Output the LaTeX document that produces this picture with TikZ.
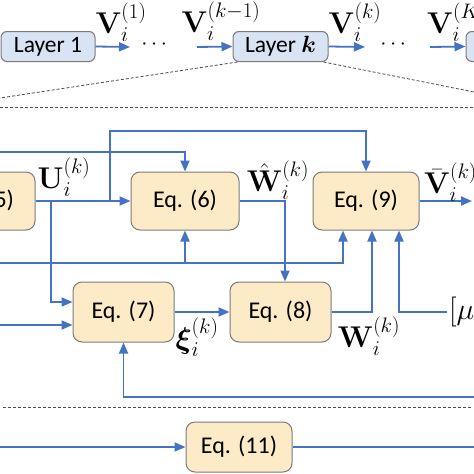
\RequirePackage{fix-cm}
\documentclass[tikz,border=0pt]{standalone}
\usepackage{amsmath}
\usepackage[no-math]{fontspec}
\setmainfont{Carlito}
\usetikzlibrary{arrows.meta}
\definecolor{lblue}{HTML}{4472C4}
\definecolor{layerfill}{HTML}{D8E4F3}
\definecolor{eqfill}{HTML}{FCEBC6}
\definecolor{boxline}{HTML}{7A7A7A}
\begin{document}
\begin{tikzpicture}[x=1pt,y=-1pt,
  layerbox/.style={draw=boxline, fill=layerfill, rounded corners=6pt, line width=1pt, minimum width=95pt, minimum height=30pt, inner sep=0pt, font=\fontsize{23.5}{26}\selectfont},
  eqbox/.style={draw=boxline, fill=eqfill, rounded corners=9pt, line width=1pt, minimum width=106pt, minimum height=58pt, inner sep=0pt, font=\fontsize{24}{26}\selectfont},
  conn/.style={draw=lblue, line width=1.8pt},
  arr/.style={conn, -{Triangle[length=11pt,width=9pt]}},
  guide/.style={draw=black!70, line width=0.8pt, dash pattern=on 3pt off 2pt},
  lab/.style={inner sep=0pt, font=\fontsize{30}{32}\selectfont},
]
\useasboundingbox (0,0) rectangle (474,474);
\clip (0,0) rectangle (474,474);

% top row
\node[layerbox, minimum width=94pt] (L1) at (48,46.5) {Layer 1};
\node[layerbox] (Lk) at (280.5,46.5) {Layer $\boldsymbol{k}$};
\node[layerbox] (LK) at (513.5,46.5) {Layer $\boldsymbol{K}$};
\coordinate (a1) at (130,47);
\coordinate (a2) at (197,47);
\coordinate (a3) at (365,47);
\coordinate (a4) at (430,47);
\draw[arr] (L1.east) -- (a1);
\draw[arr] (a2) -- (Lk.west);
\draw[arr] (Lk.east) -- (a3);
\draw[arr] (a4) -- (LK.west);
\node[lab, font=\fontsize{22}{24}\selectfont] (d1) at (156,45) {$\cdots$};
\node[lab, font=\fontsize{22}{24}\selectfont] (d2) at (395,45) {$\cdots$};
\node[lab] (v1) at (121,22) {$\mathbf{V}_i^{(1)}$};
\node[lab] (v2) at (221,21) {$\mathbf{V}_i^{(k-1)}$};
\node[lab] (v3) at (355,22) {$\mathbf{V}_i^{(k)}$};
\node[lab, anchor=west] (v4) at (427,22) {$\mathbf{V}_i^{(K)}$};

% zoom guides
\coordinate (gl) at (0,98);
\coordinate (gr) at (474,92);
\draw[guide] ([xshift=5pt]Lk.south west) -- (gl);
\draw[guide] ([xshift=-5pt]Lk.south east) -- (gr);
\coordinate (h1a) at (0,107);
\coordinate (h1b) at (474,107);
\draw[guide] (h1a) -- (h1b);
\coordinate (h2a) at (3,407);
\coordinate (h2b) at (471,407);
\draw[guide] (h2a) -- (h2b);

% equation boxes
\node[eqbox] (E5) at (-18,201) {Eq. (5)};
\node[eqbox, minimum width=108pt] (E6) at (185,201) {Eq. (6)};
\node[eqbox] (E9) at (366,201) {Eq. (9)};
\node[eqbox, minimum width=101pt, minimum height=60pt] (E7) at (123.5,312) {Eq. (7)};
\node[eqbox, minimum width=101pt, minimum height=60pt] (E8) at (280.5,312) {Eq. (8)};
\node[eqbox, minimum height=50pt] (E11) at (239,447) {Eq. (11)};

% connectors
\coordinate (j1) at (110,201);
\coordinate (t1) at (110,131);
\coordinate (j3) at (51,201);
\coordinate (in1) at (-2,152);
\coordinate (in2) at (-2,263);
\coordinate (j2) at (185,263);
\coordinate (in3) at (-2,325);
\coordinate (fb) at (476,397);
\coordinate (o9) at (472,201);
\coordinate (in11) at (-2,447);
\coordinate (o11) at (476,447);

\draw[arr] (E5.east) -- (E6.west);
\draw[arr] (j1) -- (t1) -| (E9.north);
\draw[arr] (in1) -| (E6.north);
\draw[arr] (in2) -| ([xshift=-23pt]E9.south);
\draw[arr] (j2) -- (E6.south);
\draw[arr] (E6.east) -| ([xshift=4.5pt]E8.north);
\draw[arr] (j3) |- ([yshift=10pt]E7.west);
\draw[arr] (in3) -- ([yshift=-13pt]E7.west);
\draw[arr] (E7.east) -- (E8.west);
\draw[arr] (E8.east) -| ([xshift=6pt]E9.south);
\node[lab, anchor=west] (mu) at (449,312) {$[\mu$};
\draw[arr] ([xshift=-2pt]mu.west) -| ([xshift=33pt]E9.south);
\draw[arr] (fb) -| (E7.south);
\draw[arr] (E9.east) -- (o9);
\draw[arr] (in11) -- (E11.west);
\draw[conn] (E11.east) -- (o11);

% labels
\node[lab] (u) at (64,177) {$\mathbf{U}_i^{(k)}$};
\node[lab] (wh) at (278,180) {$\hat{\mathbf{W}}_i^{(k)}$};
\node[lab, anchor=west] (vb) at (424,182) {$\bar{\mathbf{V}}_i^{(k)}$};
\node[lab] (xi) at (197,337) {$\boldsymbol{\xi}_i^{(k)}$};
\node[lab] (w) at (369,336) {$\mathbf{W}_i^{(k)}$};
\end{tikzpicture}
\end{document}
